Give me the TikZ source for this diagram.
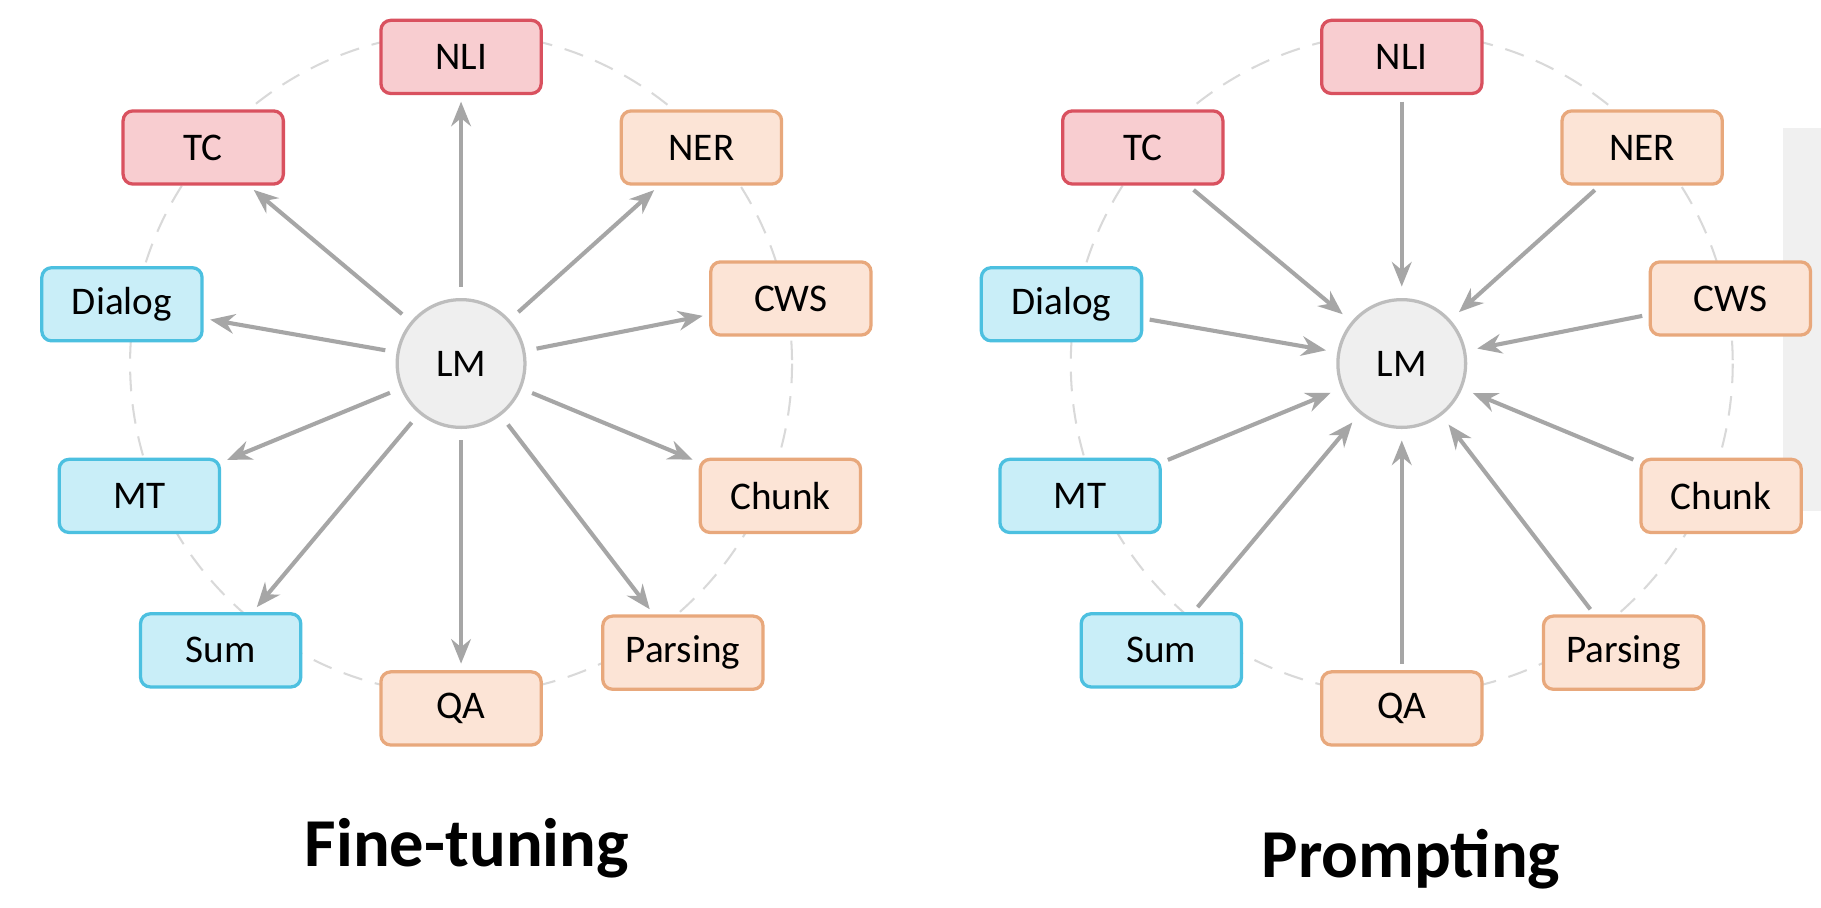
\documentclass[tikz,border=0pt]{standalone}
\usepackage{fontspec}
\setmainfont{Carlito}
\usetikzlibrary{arrows.meta}
\definecolor{rf}{HTML}{F8CDD0}\definecolor{rd}{HTML}{D9515F}
\definecolor{of}{HTML}{FCE4D6}\definecolor{od}{HTML}{E8A87C}
\definecolor{bf}{HTML}{C9EEF8}\definecolor{bd}{HTML}{4CC0E0}
\definecolor{lf}{HTML}{EFEFEF}\definecolor{ld}{HTML}{BDBDBD}
\definecolor{ar}{HTML}{A6A6A6}
\begin{document}
\begin{tikzpicture}[x=0.05cm,y=-0.05cm,
 box/.style={draw,line width=4pt,rounded corners=12pt,minimum width=6.9cm,minimum height=3.15cm,font=\fontsize{48}{54}\selectfont},
 red/.style={box,fill=rf,draw=rd},org/.style={box,fill=of,draw=od},blu/.style={box,fill=bf,draw=bd},
 lm/.style={circle,draw=ld,fill=lf,line width=4pt,minimum size=5.5cm,font=\fontsize{48}{54}\selectfont},
 arr/.style={draw=ar,line width=5pt,-{Stealth[length=30pt,width=24pt]}},
 ring/.style={draw=black!15,line width=2.5pt,dash pattern=on 24pt off 16pt},
 ttl/.style={font=\fontsize{84}{90}\selectfont\bfseries}]
\useasboundingbox (0,0) rectangle (1568,781);
\fill[white] (0,0) rectangle (1568,781);
\fill[black!6] (1535,110) rectangle (1568,440);
% left
\draw[ring] (397,313) circle (285);
\node[lm] (L) at (397,313) {LM};
\node[red] (a1) at (397,49) {NLI};
\node[red] (a2) at (175,127) {TC};
\node[org] (a3) at (604,127) {NER};
\node[blu] (a4) at (105,262) {Dialog};
\node[org] (a5) at (681,257) {CWS};
\node[blu] (a6) at (120,427) {MT};
\node[org] (a7) at (672,427) {Chunk};
\node[blu] (a8) at (190,560) {Sum};
\node[org] (a9) at (588,562) {Parsing};
\node[org] (a10) at (397,610) {QA};
\foreach \i in {1,...,10}{\path[arr,shorten <=14pt,shorten >=8pt] (L) -- (a\i);}
\node[ttl] (t1) at (402,730) {Fine-tuning};
% right
\draw[ring] (1207,313) circle (285);
\node[lm] (R) at (1207,313) {LM};
\node[red] (b1) at (1207,49) {NLI};
\node[red] (b2) at (984,127) {TC};
\node[org] (b3) at (1414,127) {NER};
\node[blu] (b4) at (914,262) {Dialog};
\node[org] (b5) at (1490,257) {CWS};
\node[blu] (b6) at (930,427) {MT};
\node[org] (b7) at (1482,427) {Chunk};
\node[blu] (b8) at (1000,560) {Sum};
\node[org] (b9) at (1398,562) {Parsing};
\node[org] (b10) at (1207,610) {QA};
\foreach \i in {1,...,10}{\path[arr,shorten <=8pt,shorten >=14pt] (b\i) -- (R);}
\node[ttl] (t2) at (1215,740) {Prompting};
\end{tikzpicture}
\end{document}
